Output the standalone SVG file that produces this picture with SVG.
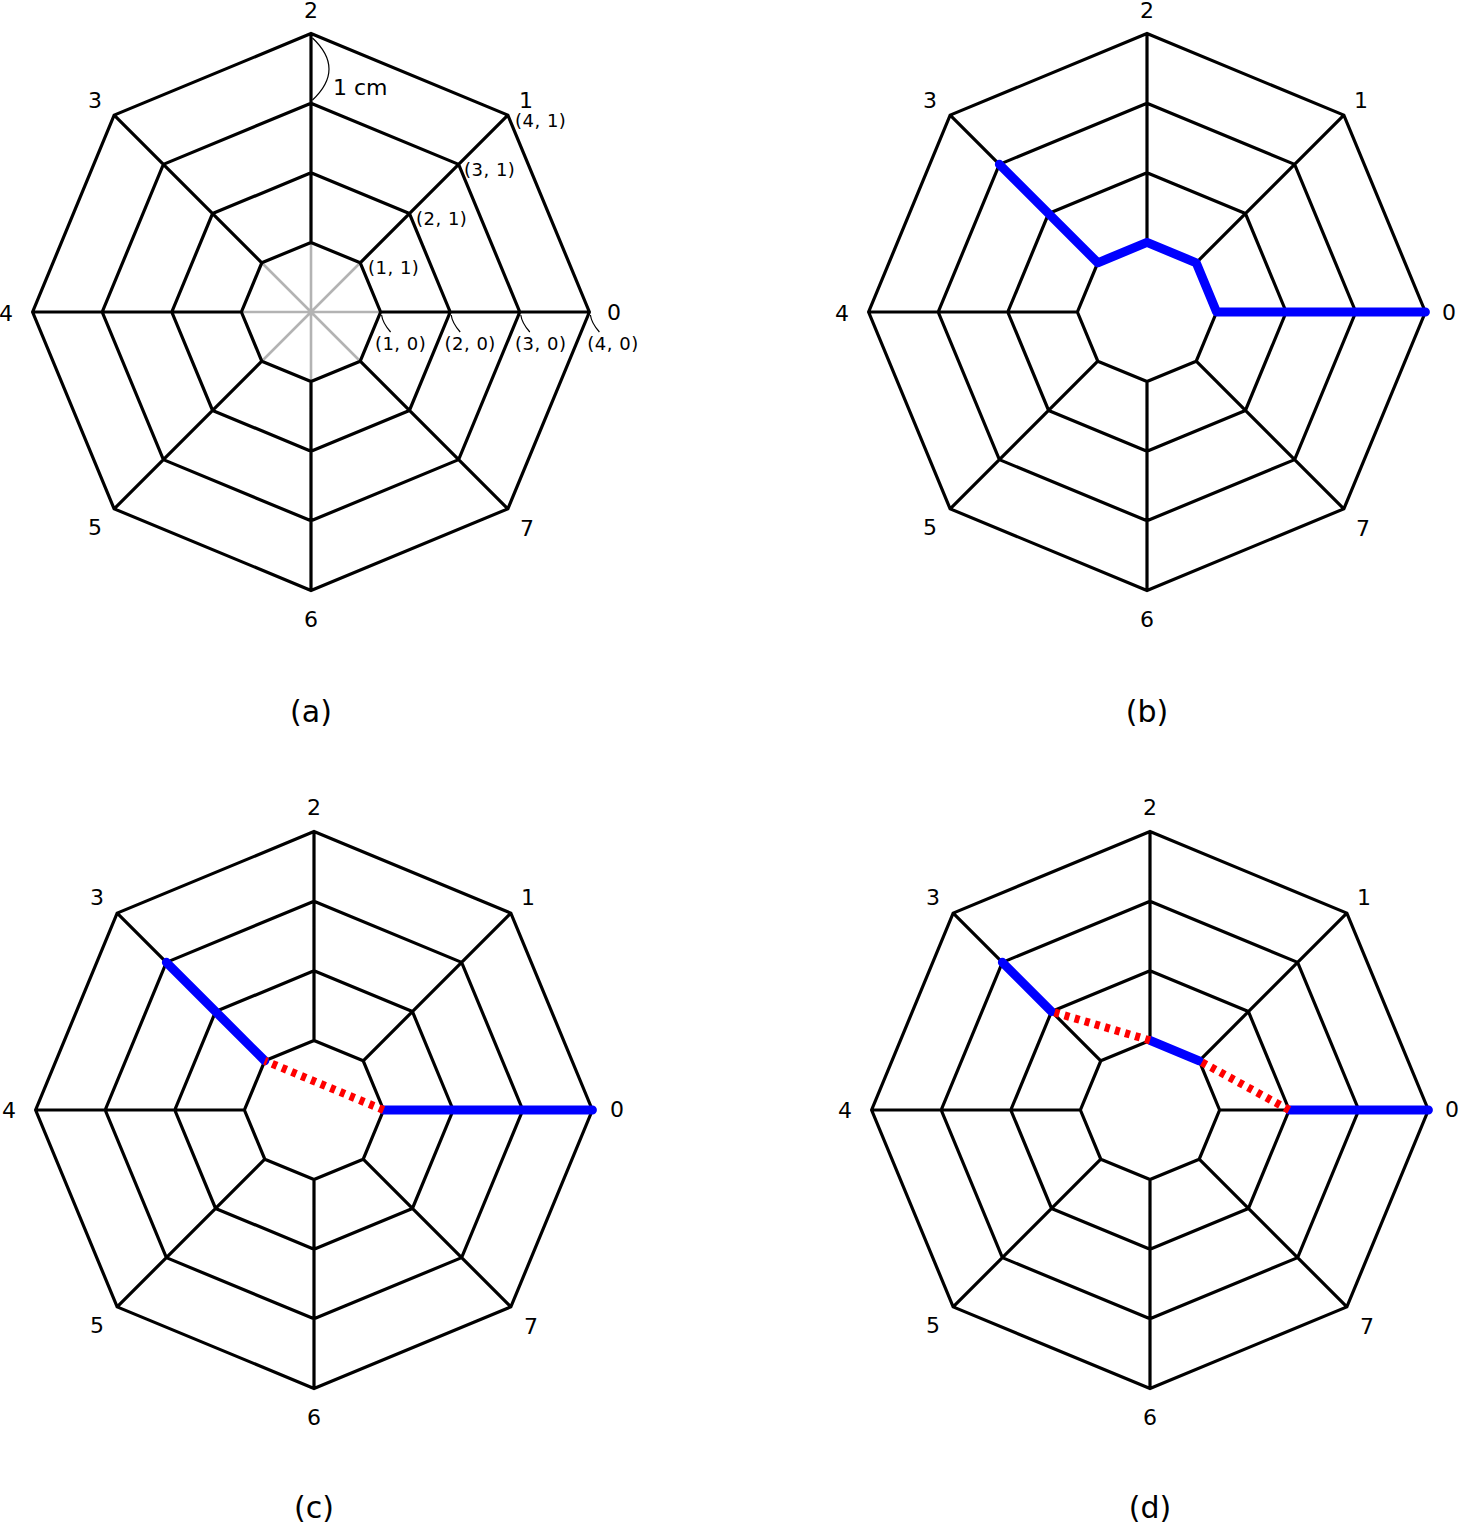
<svg xmlns="http://www.w3.org/2000/svg" width="1459" height="1525" viewBox="0 0 1459 1525">
<style>
.web{fill:none;stroke:#000;stroke-width:3.2;stroke-linejoin:miter}
.gray{fill:none;stroke:#b3b3b3;stroke-width:2.6}
.blue{fill:none;stroke:#0000ff;stroke-width:9;stroke-linecap:round;stroke-linejoin:round}
.red{fill:none;stroke:#ff0000;stroke-width:8;stroke-dasharray:5 5.5}
.lead{fill:none;stroke:#000;stroke-width:1.2}
.num{font-family:"DejaVu Sans",Verdana,sans-serif;font-size:22px;text-anchor:middle;fill:#000}
.coord{font-family:"DejaVu Sans",Verdana,sans-serif;font-size:18px;letter-spacing:0.5px;fill:#000}
.cap{font-family:"DejaVu Sans",Verdana,sans-serif;font-size:30px;text-anchor:middle;fill:#000}
</style>
<defs>
<path id="webpath" d="M69.6,0 L49.21,-49.21 L0,-69.6 L-49.21,-49.21 L-69.6,0 L-49.21,49.21 L0,69.6 L49.21,49.21 Z M139.2,0 L98.43,-98.43 L0,-139.2 L-98.43,-98.43 L-139.2,0 L-98.43,98.43 L0,139.2 L98.43,98.43 Z M208.8,0 L147.64,-147.64 L0,-208.8 L-147.64,-147.64 L-208.8,0 L-147.64,147.64 L0,208.8 L147.64,147.64 Z M278.4,0 L196.86,-196.86 L0,-278.4 L-196.86,-196.86 L-278.4,0 L-196.86,196.86 L0,278.4 L196.86,196.86 Z M69.6,0 H278.4 M49.21,-49.21 L196.86,-196.86 M0,-69.6 V-278.4 M-49.21,-49.21 L-196.86,-196.86 M-69.6,0 H-278.4 M-49.21,49.21 L-196.86,196.86 M0,69.6 V278.4 M49.21,49.21 L196.86,196.86"/>
</defs>

<g id="panel-a">
  <g transform="translate(311,312)">
    <path class="gray" d="M-69.6,0 H69.6 M0,-69.6 V69.6 M-49.21,-49.21 L49.21,49.21 M-49.21,49.21 L49.21,-49.21"/>
    <use href="#webpath" class="web"/>
  </g>
  <g id="labels-a">
    <text class="num" x="614" y="320">0</text>
    <text class="num" x="526" y="108">1</text>
    <text class="num" x="311" y="18">2</text>
    <text class="num" x="95" y="108">3</text>
    <text class="num" x="6" y="321">4</text>
    <text class="num" x="95" y="535">5</text>
    <text class="num" x="311" y="627">6</text>
    <text class="num" x="527" y="536">7</text>
  </g>
  <path class="lead" d="M312.5,38 Q345.5,69 312.5,100"/>
  <text class="num" x="333" y="95" style="text-anchor:start">1 cm</text>
  <g id="coords-a">
    <path class="lead" d="M381.6,315 Q382.6,323 390.6,332 M451.2,315 Q452.2,323 460.2,332 M520.8,315 Q521.8,323 529.8,332 M590.4,315 Q591.4,323 599.4,332"/>
    <text class="coord" x="400.6" y="350" text-anchor="middle">(1, 0)</text>
    <text class="coord" x="470.2" y="350" text-anchor="middle">(2, 0)</text>
    <text class="coord" x="540.8" y="350" text-anchor="middle">(3, 0)</text>
    <text class="coord" x="613" y="350" text-anchor="middle">(4, 0)</text>
    <text class="coord" x="368" y="274">(1, 1)</text>
    <text class="coord" x="416" y="225">(2, 1)</text>
    <text class="coord" x="464" y="176">(3, 1)</text>
    <text class="coord" x="515" y="127">(4, 1)</text>
  </g>
  <text class="cap" x="311" y="722">(a)</text>
</g>

<g id="panel-b">
  <g transform="translate(1147,312)">
    <use href="#webpath" class="web"/>
    <path class="blue" d="M278.4,0 L69.6,0 L49.21,-49.21 L0,-69.6 L-49.21,-49.21 L-147.64,-147.64"/>
  </g>
  <g id="labels-b">
    <text class="num" x="1449" y="320">0</text>
    <text class="num" x="1361" y="108">1</text>
    <text class="num" x="1147" y="18">2</text>
    <text class="num" x="930" y="108">3</text>
    <text class="num" x="842" y="321">4</text>
    <text class="num" x="930" y="535">5</text>
    <text class="num" x="1147" y="627">6</text>
    <text class="num" x="1363" y="536">7</text>
  </g>
  <text class="cap" x="1147" y="722">(b)</text>
</g>

<g id="panel-c">
  <g transform="translate(314,1110)">
    <use href="#webpath" class="web"/>
    <path class="blue" d="M278.4,0 L69.6,0 M-49.21,-49.21 L-147.64,-147.64"/>
    <path class="red" d="M69.6,0 L-49.21,-49.21"/>
  </g>
  <g id="labels-c">
    <text class="num" x="617" y="1117">0</text>
    <text class="num" x="528" y="905">1</text>
    <text class="num" x="314" y="815">2</text>
    <text class="num" x="97" y="905">3</text>
    <text class="num" x="9" y="1118">4</text>
    <text class="num" x="97" y="1333">5</text>
    <text class="num" x="314" y="1425">6</text>
    <text class="num" x="531" y="1334">7</text>
  </g>
  <text class="cap" x="314" y="1518">(c)</text>
</g>

<g id="panel-d">
  <g transform="translate(1150,1110)">
    <use href="#webpath" class="web"/>
    <path class="blue" d="M278.4,0 L139.2,0 M49.21,-49.21 L0,-69.6 M-98.43,-98.43 L-147.64,-147.64"/>
    <path class="red" d="M139.2,0 L49.21,-49.21 M0,-69.6 L-98.43,-98.43"/>
  </g>
  <g id="labels-d">
    <text class="num" x="1452" y="1117">0</text>
    <text class="num" x="1364" y="905">1</text>
    <text class="num" x="1150" y="815">2</text>
    <text class="num" x="933" y="905">3</text>
    <text class="num" x="845" y="1118">4</text>
    <text class="num" x="933" y="1333">5</text>
    <text class="num" x="1150" y="1425">6</text>
    <text class="num" x="1367" y="1334">7</text>
  </g>
  <text class="cap" x="1150" y="1518">(d)</text>
</g>
</svg>
